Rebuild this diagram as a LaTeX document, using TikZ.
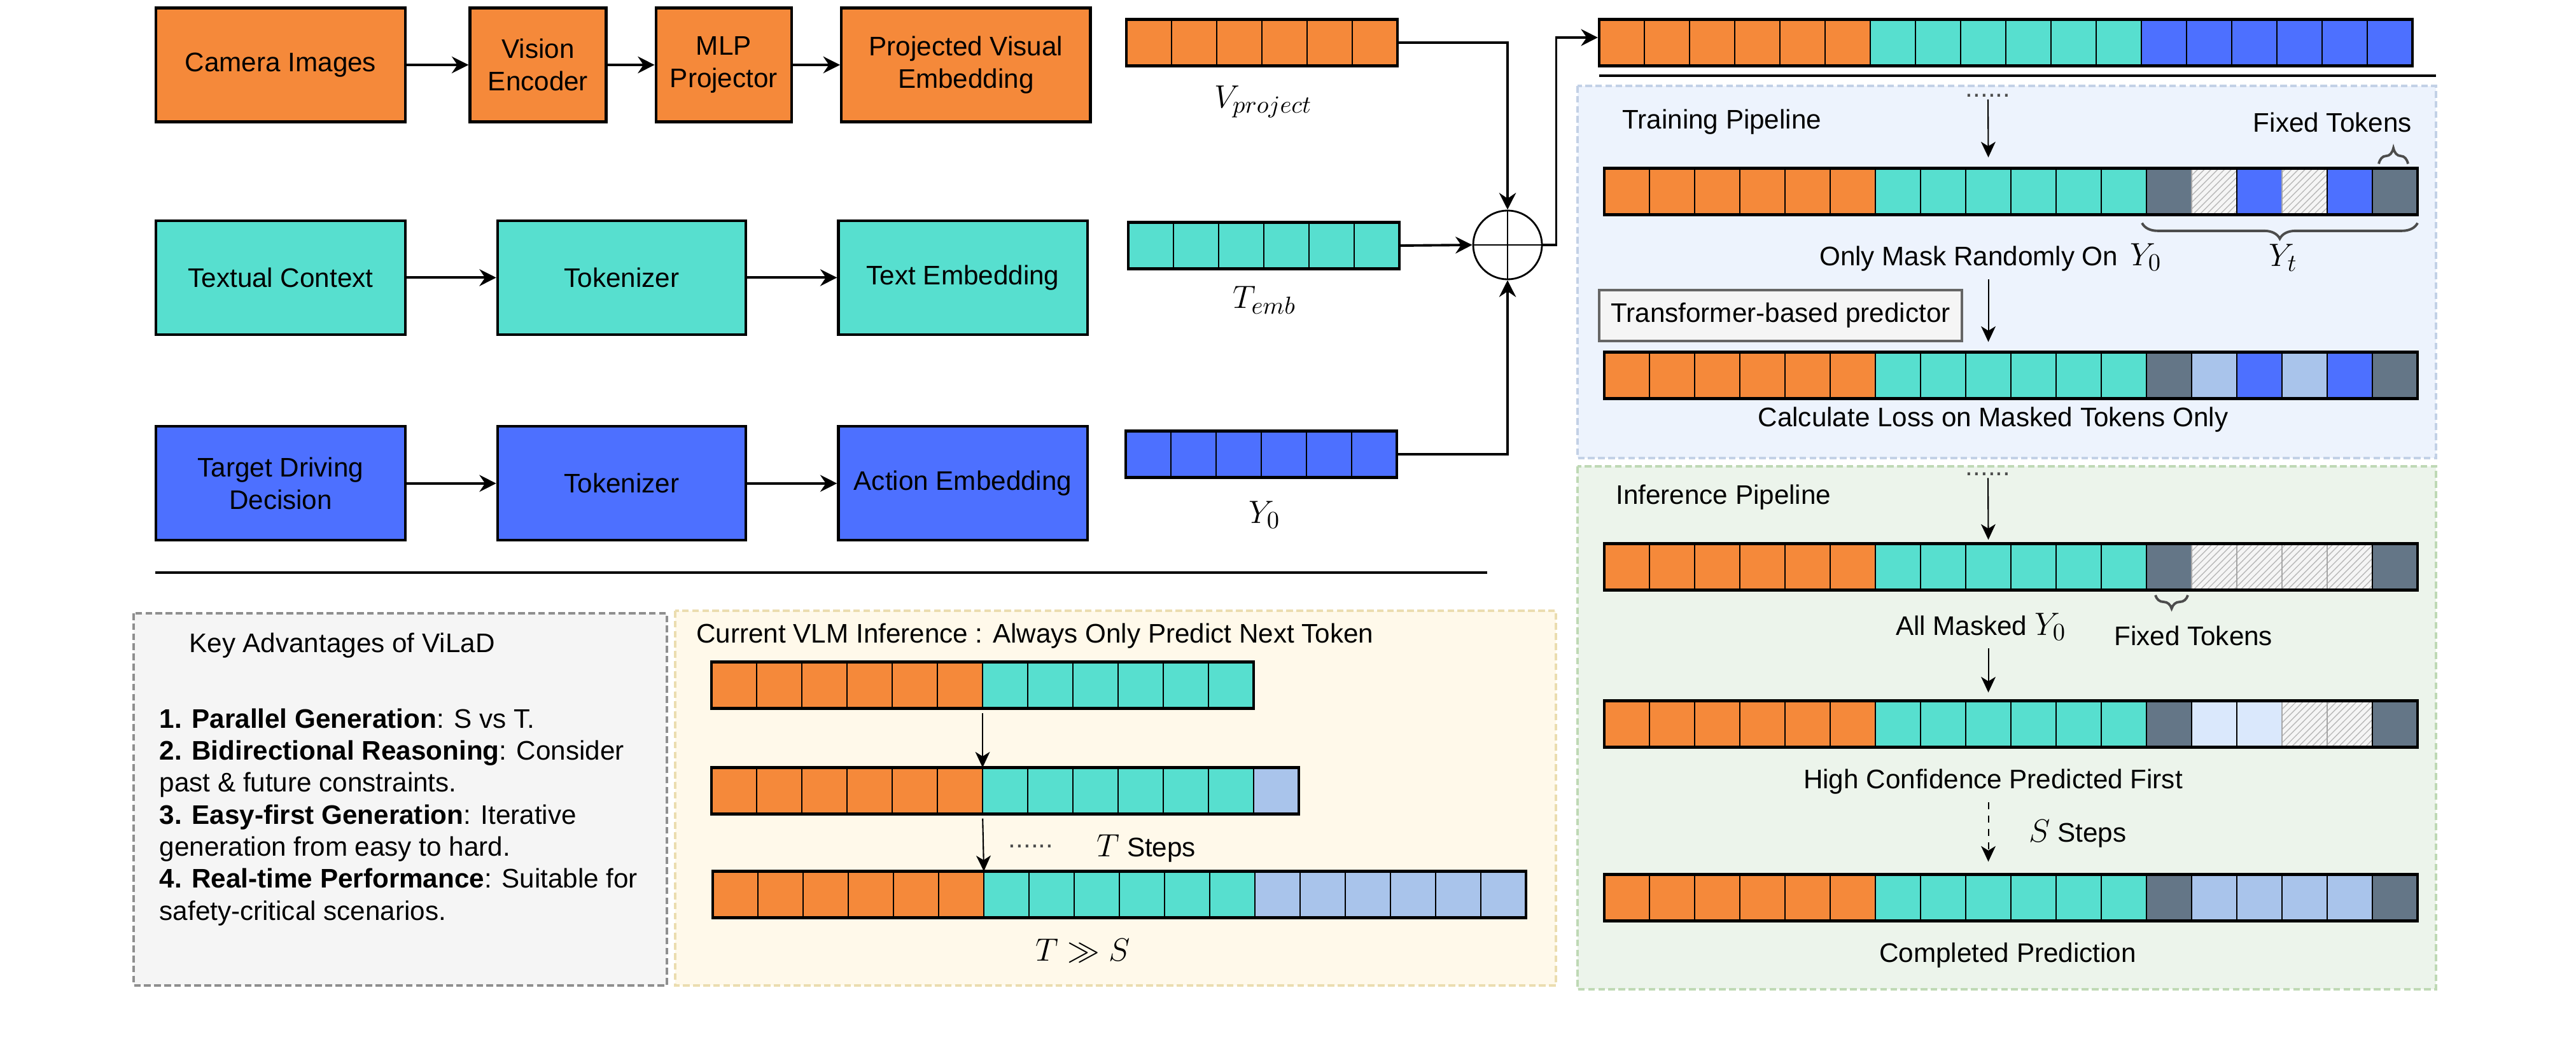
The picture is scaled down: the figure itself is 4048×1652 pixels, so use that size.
\documentclass[tikz,border=0pt]{standalone}
\usepackage{fontspec}
\setmainfont{Liberation Sans}
\usetikzlibrary{arrows.meta, positioning, fit, patterns, decorations.pathreplacing}

\definecolor{corange}{HTML}{F5893A}
\definecolor{cteal}{HTML}{57DFCF}
\definecolor{cblue}{HTML}{4D70FF}
\definecolor{cslate}{HTML}{647687}
\definecolor{clight}{HTML}{A9C4EB}
\definecolor{cpale}{HTML}{DAE8FC}
\definecolor{trainbg}{HTML}{EDF3FD}
\definecolor{trainln}{HTML}{C3D1E6}
\definecolor{infbg}{HTML}{ECF4EB}
\definecolor{infln}{HTML}{BFD9B5}
\definecolor{keybg}{HTML}{F5F5F5}
\definecolor{keyln}{HTML}{8F8F8F}
\definecolor{curbg}{HTML}{FFF9EA}
\definecolor{curln}{HTML}{EBDDB0}

\tikzset{
  tok/.style={draw, line width=0.8pt, minimum width=0.71cm, minimum height=0.73cm,
    inner sep=0pt, outer sep=0pt, anchor=west},
  tk/or/.style={fill=corange},
  tk/te/.style={fill=cteal},
  tk/bl/.style={fill=cblue},
  tk/sl/.style={fill=cslate},
  tk/lb/.style={fill=clight},
  tk/pb/.style={fill=cpale},
  tk/ht/.style={draw=gray!70, preaction={fill=gray!8}, pattern=north east lines, pattern color=gray!55},
}

% one row of tokens: name, left x, centre y, cell kinds
\newcommand{\tokrow}[4]{%
  \foreach \c [count=\i] in {#4} {
    \node[tok, tk/\c] (#1-\i) at ({#2+(\i-1)*71}, #3) {};
    \xdef\lastk{\i}
  }
  \node[fit=(#1-1)(#1-\lastk), inner sep=0pt, draw, line width=1.2pt] (#1) {};
}

\begin{document}
\begin{tikzpicture}[x=0.01cm, y=-0.01cm, font=\fontsize{12}{14.3}\selectfont]
    \tikzstyle{blk} = [draw, line width=1.2pt, minimum height=1.79cm, align=center, inner sep=2pt]
    \tikzstyle{arr} = [-{Stealth[length=7.5pt,width=7.5pt,inset=2.5pt]}, line width=1.1pt]
    \tikzstyle{thinarr} = [-{Stealth[length=7pt,width=6.5pt,inset=2pt]}, line width=0.6pt]
    \tikzstyle{mathlbl} = [font=\fontsize{15}{18}\selectfont]
    \tikzstyle{panel} = [dash pattern=on 3pt off 1.5pt, line width=1pt]
    \tikzstyle{brc} = [decorate, line width=1.1pt, draw=black!70]
    \tikzstyle{elli} = [inner sep=1pt, text=black!70]
    \useasboundingbox (0,0) rectangle (4048,1652);

    % panels
    \filldraw[panel, fill=trainbg, draw=trainln] (2479,135) rectangle (3828,720);
    \filldraw[panel, fill=infbg, draw=infln] (2479,733) rectangle (3828,1555);
    \filldraw[panel, fill=keybg, draw=keyln] (210,964) rectangle (1048,1549);
    \filldraw[panel, fill=curbg, draw=curln] (1061,960) rectangle (2445,1549);

    % input pipelines
    \node[blk, fill=corange, minimum width=3.92cm] at (441,102) (cam) {Camera Images};
    \node[blk, fill=corange, minimum width=2.14cm, right=0.97cm of cam] (venc) {Vision\\Encoder};
    \node[blk, fill=corange, minimum width=2.13cm, right=0.74cm of venc] (mlp) {MLP\\Projector};
    \node[blk, fill=corange, minimum width=3.91cm, right=0.74cm of mlp] (pve) {Projected Visual\\Embedding};
    \node[blk, fill=cteal, minimum width=3.91cm, below=1.51cm of cam] (txt) {Textual Context};
    \node[blk, fill=cteal, minimum width=3.90cm, right=1.41cm of txt] (tok1) {Tokenizer};
    \node[blk, fill=cteal, minimum width=3.91cm, right=1.41cm of tok1] (temb) {Text Embedding};
    \node[blk, fill=cblue, minimum width=3.91cm, below=1.40cm of txt] (tgt) {Target Driving\\Decision};
    \node[blk, fill=cblue, minimum width=3.90cm, right=1.41cm of tgt] (tok2) {Tokenizer};
    \node[blk, fill=cblue, minimum width=3.91cm, right=1.41cm of tok2] (aemb) {Action Embedding};
    \draw[arr] (cam) -- (venc);
    \draw[arr] (venc) -- (mlp);
    \draw[arr] (mlp) -- (pve);
    \draw[arr] (txt) -- (tok1);
    \draw[arr] (tok1) -- (temb);
    \draw[arr] (tgt) -- (tok2);
    \draw[arr] (tok2) -- (aemb);

    % embeddings and sum
    \tokrow{V}{1770}{67}{or,or,or,or,or,or}
    \tokrow{T}{1773}{386}{te,te,te,te,te,te}
    \tokrow{Y}{1769}{714}{bl,bl,bl,bl,bl,bl}
    \node[mathlbl] (vlab) at (1985,160) {$V_{project}$};
    \node[mathlbl] (tlab) at (1987,472) {$T_{emb}$};
    \node[mathlbl] (ylab) at (1987,809) {$Y_0$};
    \node[circle, draw, minimum size=1.08cm, inner sep=0pt, line width=0.8pt] at (2369,385) (sum) {};
    \draw[line width=0.8pt] (sum.north) -- (sum.south) (sum.west) -- (sum.east);
    \draw[arr] (V.east) -| (sum.north);
    \draw[arr] (T.east) -- (sum.west);
    \draw[arr] (Y.east) -| (sum.south);
    \tokrow{top}{2513}{67}{or,or,or,or,or,or,te,te,te,te,te,te,bl,bl,bl,bl,bl,bl}
    \draw[arr] (sum.east) -- ++(21,0) |- ([yshift=0.08cm]top.west);
    \draw[line width=1.3pt] (2513,119) -- (3828,119);
    \draw[line width=1.4pt] (244,900) -- (2337,900);

    % training pipeline
    \node[anchor=west] (trlab) at (2537,192) {Training Pipeline};
    \tokrow{tr1}{2521}{301}{or,or,or,or,or,or,te,te,te,te,te,te,sl,ht,bl,ht,bl,sl}
    \node[elli] (trdots) at (3124,150) {......};
    \draw[thinarr] (trdots.south) -- ([yshift=0.17cm]tr1-9.north);
    \node[anchor=east] (fixlab) at (3802,192) {Fixed Tokens};
    \draw[brc, decoration={brace, amplitude=7pt}] ([xshift=0.1cm, yshift=0.07cm]tr1-18.north west) -- ([xshift=-0.15cm, yshift=0.07cm]tr1-18.north east);
    \draw[brc, decoration={brace, mirror, amplitude=7pt}] ([xshift=-0.07cm, yshift=-0.13cm]tr1-13.south west) -- ([yshift=-0.13cm]tr1-18.south east);
    \node (masklab) at (3128,405) {Only Mask Randomly On\, {\fontsize{15}{18}\selectfont $Y_0$}};
    \node[mathlbl] (ytlab) at (3588,405) {$Y_t$};
    \node[draw=black!60, fill=black!4, line width=1.3pt, minimum width=5.7cm, minimum height=0.8cm] at (2798,496) (tfm) {Transformer-based predictor};
    \tokrow{tr2}{2521}{590}{or,or,or,or,or,or,te,te,te,te,te,te,sl,lb,bl,lb,bl,sl}
    \draw[thinarr] (masklab.south -| tr2-9.north) -- ([yshift=0.16cm]tr2-9.north);
    \node (losslab) at (3132,660) {Calculate Loss on Masked Tokens Only};

    % inference pipeline
    \node[anchor=west] (inlab) at (2527,782) {Inference Pipeline};
    \node[elli] (indots) at (3124,745) {......};
    \tokrow{in1}{2521}{891}{or,or,or,or,or,or,te,te,te,te,te,te,sl,ht,ht,ht,ht,sl}
    \draw[thinarr] (indots.south) -- ([yshift=0.06cm]in1-9.north);
    \draw[brc, decoration={brace, mirror, amplitude=6pt}] ([xshift=0.14cm, yshift=-0.08cm]in1-13.south west) -- ([xshift=-0.06cm, yshift=-0.08cm]in1-13.south east);
    \node (alllab) at (3113,985) {All Masked {\fontsize{15}{18}\selectfont $Y_0$}};
    \node[anchor=west] (fix2lab) at (3310,999) {Fixed Tokens};
    \tokrow{in2}{2521}{1138}{or,or,or,or,or,or,te,te,te,te,te,te,sl,pb,pb,ht,ht,sl}
    \draw[thinarr] (alllab.south -| in2-9.north) -- ([yshift=0.13cm]in2-9.north);
    \node (hilab) at (3132,1229) {High Confidence Predicted First};
    \tokrow{in3}{2521}{1411}{or,or,or,or,or,or,te,te,te,te,te,te,sl,lb,lb,lb,lb,sl}
    \draw[thinarr, dashed] (hilab.south -| in3-9.north) -- ([yshift=0.2cm]in3-9.north);
    \node[anchor=west] (slab) at (3176,1311) {{\fontsize{15}{18}\selectfont $S$} Steps};
    \node (donelab) at (3155,1502) {Completed Prediction};

    % key advantages
    \node[anchor=west] (keytitle) at (285,1015) {Key Advantages of ViLaD};
    \node[anchor=north west, align=left, inner sep=0pt] at (250,1113) (keylist) {%
        \textbf{1. Parallel Generation}: S vs T.\\
        \textbf{2. Bidirectional Reasoning}: Consider\\
        past \& future constraints.\\
        \textbf{3. Easy-first Generation}: Iterative\\
        generation from easy to hard.\\
        \textbf{4. Real-time Performance}: Suitable for\\
        safety-critical scenarios.};

    % current VLM inference
    \node[anchor=west] (curlab) at (1082,1000) {Current VLM Inference : Always Only Predict Next Token};
    \tokrow{cur1}{1118}{1077}{or,or,or,or,or,or,te,te,te,te,te,te}
    \tokrow{cur2}{1118}{1243}{or,or,or,or,or,or,te,te,te,te,te,te,lb}
    \tokrow{cur3}{1120}{1406}{or,or,or,or,or,or,te,te,te,te,te,te,lb,lb,lb,lb,lb,lb}
    \draw[thinarr, shorten <=2pt] (cur1-6.south east) -- (cur2-6.north east);
    \draw[thinarr, shorten <=2pt] (cur2-6.south east) -- (cur3-6.north east);
    \node[elli] (curdots) at (1620,1330) {......};
    \node[anchor=west] (tlab2) at (1711,1334) {{\fontsize{15}{18}\selectfont $T$} Steps};
    \node[mathlbl] (tgs) at (1702,1494) {$T \gg S$};
\end{tikzpicture}
\end{document}
